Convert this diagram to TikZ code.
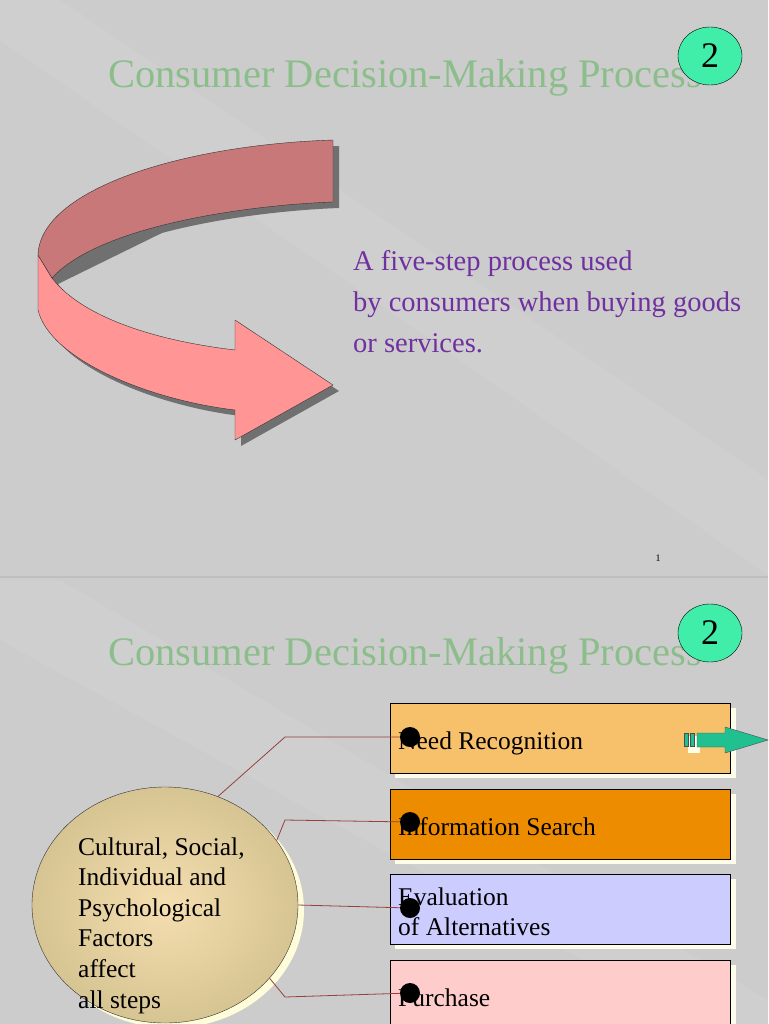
\documentclass[tikz,border=0pt]{standalone}
\usepackage{fontspec}
\setmainfont{Liberation Serif}
\begin{document}
\begin{tikzpicture}[x=1pt,y=-1pt,
  ttl/.style={text={rgb,255:red,140;green,190;blue,140}, font=\fontsize{40.5}{44}\selectfont, anchor=base west, inner sep=0},
  badge/.style={ellipse, draw=black, fill={rgb,255:red,64;green,238;blue,170}, minimum width=64, minimum height=58, inner sep=0, font=\fontsize{36}{40}\selectfont},
  stepbox/.style={draw=black, line width=0.8pt, minimum width=340, minimum height=70, anchor=north west, inner sep=0},
  boxtxt/.style={anchor=base west, font=\fontsize{25.5}{30}\selectfont, inner sep=0, align=left},
  dot/.style={circle, fill=black, minimum size=20, inner sep=0},
  conn/.style={draw=red!45!black!75, line width=0.8pt}]
\usetikzlibrary{shapes.geometric}
\useasboundingbox (0,0) rectangle (768,1024);
\fill[gray!40] (0,0) rectangle (768,1024);
\fill[white,opacity=0.07] (0,0) -- (60,0) -- (768,480) -- (768,575) -- (0,40) -- cycle;
\fill[white,opacity=0.07] (0,580) -- (60,580) -- (768,1000) -- (768,1024) -- (700,1024) -- (0,640) -- cycle;
\draw[gray!50,line width=2pt] (0,577) -- (768,577);
% slide 1
\node[ttl] (t1) at (108,88) {Consumer Decision-Making Process};
\node[badge] (b1) at (710,56) {2};
% arrow shadow
\begin{scope}[shift={(6,6)}]
\fill[gray!75!black!90] (333,140) .. controls (180,145) and (40,190) .. (38,255) -- (38,310) .. controls (50,360) and (150,400) .. (235,410) -- (235,440) -- (333,385) -- (235,320) -- (235,350) .. controls (150,340) and (80,315) .. (52,278) -- cycle;
\fill[gray!75!black!90] (333,140) -- (333,202) .. controls (250,205) and (100,225) .. (52,278) -- (38,255) -- cycle;
\end{scope}
\filldraw[draw=black!80, fill=red!35!white!90!red] (38,255) -- (38,310) .. controls (50,360) and (150,400) .. (235,410) -- (235,440) -- (333,385) -- (235,320) -- (235,350) .. controls (150,340) and (80,315) .. (52,278) -- cycle;
\filldraw[draw=black!80, fill={rgb,255:red,200;green,120;blue,120}] (333,140) .. controls (180,145) and (40,190) .. (38,255) -- (52,278) .. controls (100,225) and (250,205) .. (333,202) -- cycle;
\node[anchor=base west, inner sep=0, align=left, text={rgb,255:red,112;green,48;blue,160}, font=\fontsize{28.5}{41}\selectfont] (desc) at (353,352) {A five-step process used\\by consumers when buying goods\\or services.};
\node[font=\fontsize{10}{12}\selectfont] (pg) at (658,558) {1};
% slide 2
\node[ttl] (t2) at (108,665) {Consumer Decision-Making Process};
\node[badge] (b2) at (710,633) {2};
\foreach \y/\c/\n in {703/{rgb,255:red,247;green,192;blue,106}/s1, 789/{rgb,255:red,238;green,140;blue,0}/s2, 874/{rgb,255:red,204;green,204;blue,255}/s3, 960/{rgb,255:red,255;green,204;blue,204}/s4}{
  \fill[gray!10!yellow!8] (395,\y+5) rectangle (736,\y+75);
  \node[stepbox, fill=\c] (\n) at (390,\y) {};
}
\node[boxtxt] (l1) at (398,749) {Need Recognition};
\node[boxtxt] (l2) at (398,835) {Information Search};
\node[boxtxt, font=\fontsize{25.5}{30}\selectfont] (l3) at (398,935) {Evaluation\\of Alternatives};
\node[boxtxt] (l4) at (398,1006) {Purchase};
\node[dot] (d1) at (410,737) {};
\node[dot] (d2) at (410,822) {};
\node[dot] (d3) at (410,908) {};
\node[dot] (d4) at (410,993) {};
% green arrow
\fill[white!90!yellow] (688,736) rectangle (700,753);
\filldraw[draw=black!70, fill={rgb,255:red,32;green,192;blue,144}] (684,733) rectangle (688,746) (690,733) rectangle (694,746);
\filldraw[draw=black!70, fill={rgb,255:red,32;green,192;blue,144}] (697,733) -- (725,733) -- (725,727) -- (768,740) -- (725,753) -- (725,747) -- (697,747) -- cycle;
% ellipse
\fill[white!85!yellow] (171,910) ellipse (133 and 118);
\node[ellipse, draw=black!80, minimum width=266, minimum height=236, inner sep=0, inner color={rgb,255:red,245;green,222;blue,176}, outer color={rgb,255:red,214;green,196;blue,146}] (ell) at (165,905) {};
\node[anchor=base west, inner sep=0, align=left, font=\fontsize{25.5}{30.6}\selectfont] (etxt) at (78,1008) {Cultural, Social,\\Individual and\\Psychological\\Factors\\affect\\all steps};
\coordinate (k1) at (285,737);
\coordinate (k2) at (285,820);
\coordinate (k4) at (285,997);
\draw[conn] (ell.64) -- (k1) -- (d1);
\draw[conn] (ell.30) -- (k2) -- (d2);
\draw[conn] (ell.east) -- (d3);
\draw[conn] (ell.-35) -- (k4) -- (d4);
\end{tikzpicture}
\end{document}
